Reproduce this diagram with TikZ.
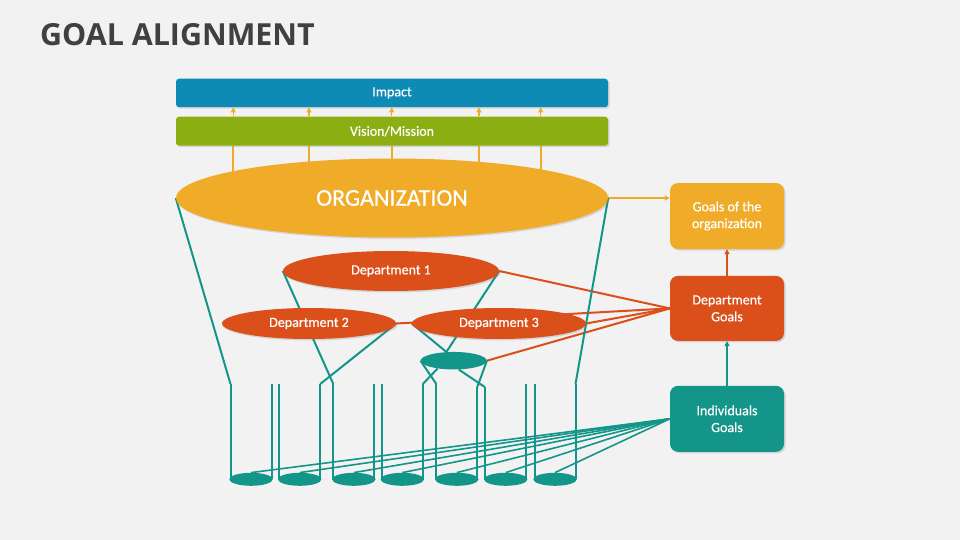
\documentclass[tikz,border=0pt]{standalone}
\usepackage{fontspec}
\setmainfont{Carlito}
\newfontfamily\lblfont{Carlito}[FakeBold=0.6]
\newfontfamily\titlefont{Open Sans}
\usetikzlibrary{shapes.geometric,arrows.meta,shadows}
\definecolor{bgc}{HTML}{F2F2F2}
\definecolor{titlec}{HTML}{404040}
\definecolor{impactc}{HTML}{0E8BB5}
\definecolor{visionc}{HTML}{8BAF12}
\definecolor{orgc}{HTML}{F0AB28}
\definecolor{redc}{HTML}{DA4F1A}
\definecolor{tealc}{HTML}{13958A}
\pgfdeclarelayer{bglayer}
\pgfdeclarelayer{lines}
\pgfsetlayers{bglayer,lines,main}
\begin{document}
\begin{tikzpicture}[x=1pt,y=-1pt,
  lbl/.style={font=\lblfont\fontsize{14}{16.8}\selectfont, text=white, align=center, inner sep=0pt},
  shad/.style={drop shadow={opacity=0.25, shadow xshift=1.5pt, shadow yshift=-1.5pt}},
  bar/.style={lbl, rectangle, rounded corners=3pt, minimum width=432pt, minimum height=28.5pt, shad},
  gbox/.style={lbl, rectangle, rounded corners=8pt, minimum width=114pt, minimum height=66pt, shad},
  oval/.style={lbl, ellipse, shad},
  dept/.style={oval, fill=redc, minimum width=174pt, minimum height=31pt},
  botel/.style={ellipse, fill=tealc, inner sep=0pt, minimum width=43.5pt, minimum height=13pt},
  tline/.style={draw=tealc, line width=2pt},
  rline/.style={draw=redc, line width=2pt},
  oline/.style={draw=orgc, line width=2pt},
  uparrow/.style={-{Triangle[length=5pt,width=5pt]}},
]
\begin{pgfonlayer}{bglayer}
\fill[bgc] (0,0) rectangle (960,540);
\end{pgfonlayer}

\node[anchor=base west, inner sep=0pt, text=titlec, font=\titlefont\bfseries\fontsize{30.4}{36}\selectfont] (title) at (40,45.7) {GOAL ALIGNMENT};

\node[bar, fill=impactc] (impact) at (392,93) {Impact};
\node[bar, fill=visionc, minimum height=29pt] (vision) at (392,131.2) {Vision/Mission};
\node[oval, fill=orgc, minimum width=432pt, minimum height=79pt, font=\lblfont\fontsize{24}{28}\selectfont] (org) at (392,198) {ORGANIZATION};

\node[gbox, fill=orgc] (goalsorg) at (727,216) {Goals of the\\organization};
\node[gbox, fill=redc, minimum height=65pt] (deptgoals) at (727,308.4) {Department\\Goals};
\node[gbox, fill=tealc] (indiv) at (727,418.8) {Individuals\\Goals};

\node[dept, minimum width=216pt, minimum height=40pt] (d1) at (391,271) {Department 1};
\node[dept] (d2) at (309,323.5) {Department 2};
\node[dept] (d3) at (499,323.5) {Department 3};
\node[ellipse, fill=tealc, inner sep=0pt, minimum width=66pt, minimum height=17.5pt] (sm) at (453.7,360.7) {};

\foreach \i/\x in {1/251,2/299.7,3/353.8,4/402.3,5/456.8,6/505.7,7/555}{
  \node[botel] (b\i) at (\x,479.3) {};
  \coordinate (t\i L) at (\x-20.5,384);
  \coordinate (t\i R) at (\x+20.5,384);
}
\coordinate (t5R) at (477.3,387);
\coordinate (t6L) at (484.7,387);

\foreach \i/\x in {1/233.3,2/309,3/391.7,4/479,5/540.7}{
  \coordinate (a\i) at (\x,190);
}

\begin{pgfonlayer}{lines}
  % orange arrows
  \foreach \i in {1,...,5}{
    \draw[oline] (a\i) -- (a\i |- vision.south);
    \draw[oline, line width=1.3pt, uparrow] (a\i |- vision.north) -- (a\i |- impact.south);
  }
  \draw[oline, uparrow] (org.east) -- (org.east -| goalsorg.west);
  \draw[rline, uparrow] (deptgoals.north) -- (goalsorg.south);
  \draw[tline, uparrow] (indiv.north) -- (deptgoals.south);
  % red lines
  \draw[rline] (deptgoals.west) -- (d1.east);
  \draw[rline] (deptgoals.west) -- (d2.east);
  \draw[rline] (deptgoals.west) -- (d3.east);
  \draw[rline] (deptgoals.west) -- (sm.east);
  % cups
  \foreach \i in {1,...,7}{
    \draw[tline] (t\i L) -- (t\i L |- b\i.center);
    \draw[tline] (t\i R) -- (t\i R |- b\i.center);
    \draw[tline, line width=1.6pt] (indiv.west) -- (b\i.north);
  }
  % teal connectors
  \draw[tline] (org.west) -- (t1L);
  \draw[tline] (org.east) -- (t7R);
  \draw[tline] (d2.east) -- (t2R);
  \draw[tline] (d1.west) -- (t3L);
  \draw[tline] (d3.west) -- (sm.130);
  \draw[tline] (d1.east) -- (sm.130);
  \draw[tline] (sm.206) -- (t4R);
  \draw[tline] (sm.west) -- (t5L);
  \draw[tline] (sm.east) -- (t5R);
  \draw[tline] (sm.300) -- (t6L);
\end{pgfonlayer}
\end{tikzpicture}
\end{document}
